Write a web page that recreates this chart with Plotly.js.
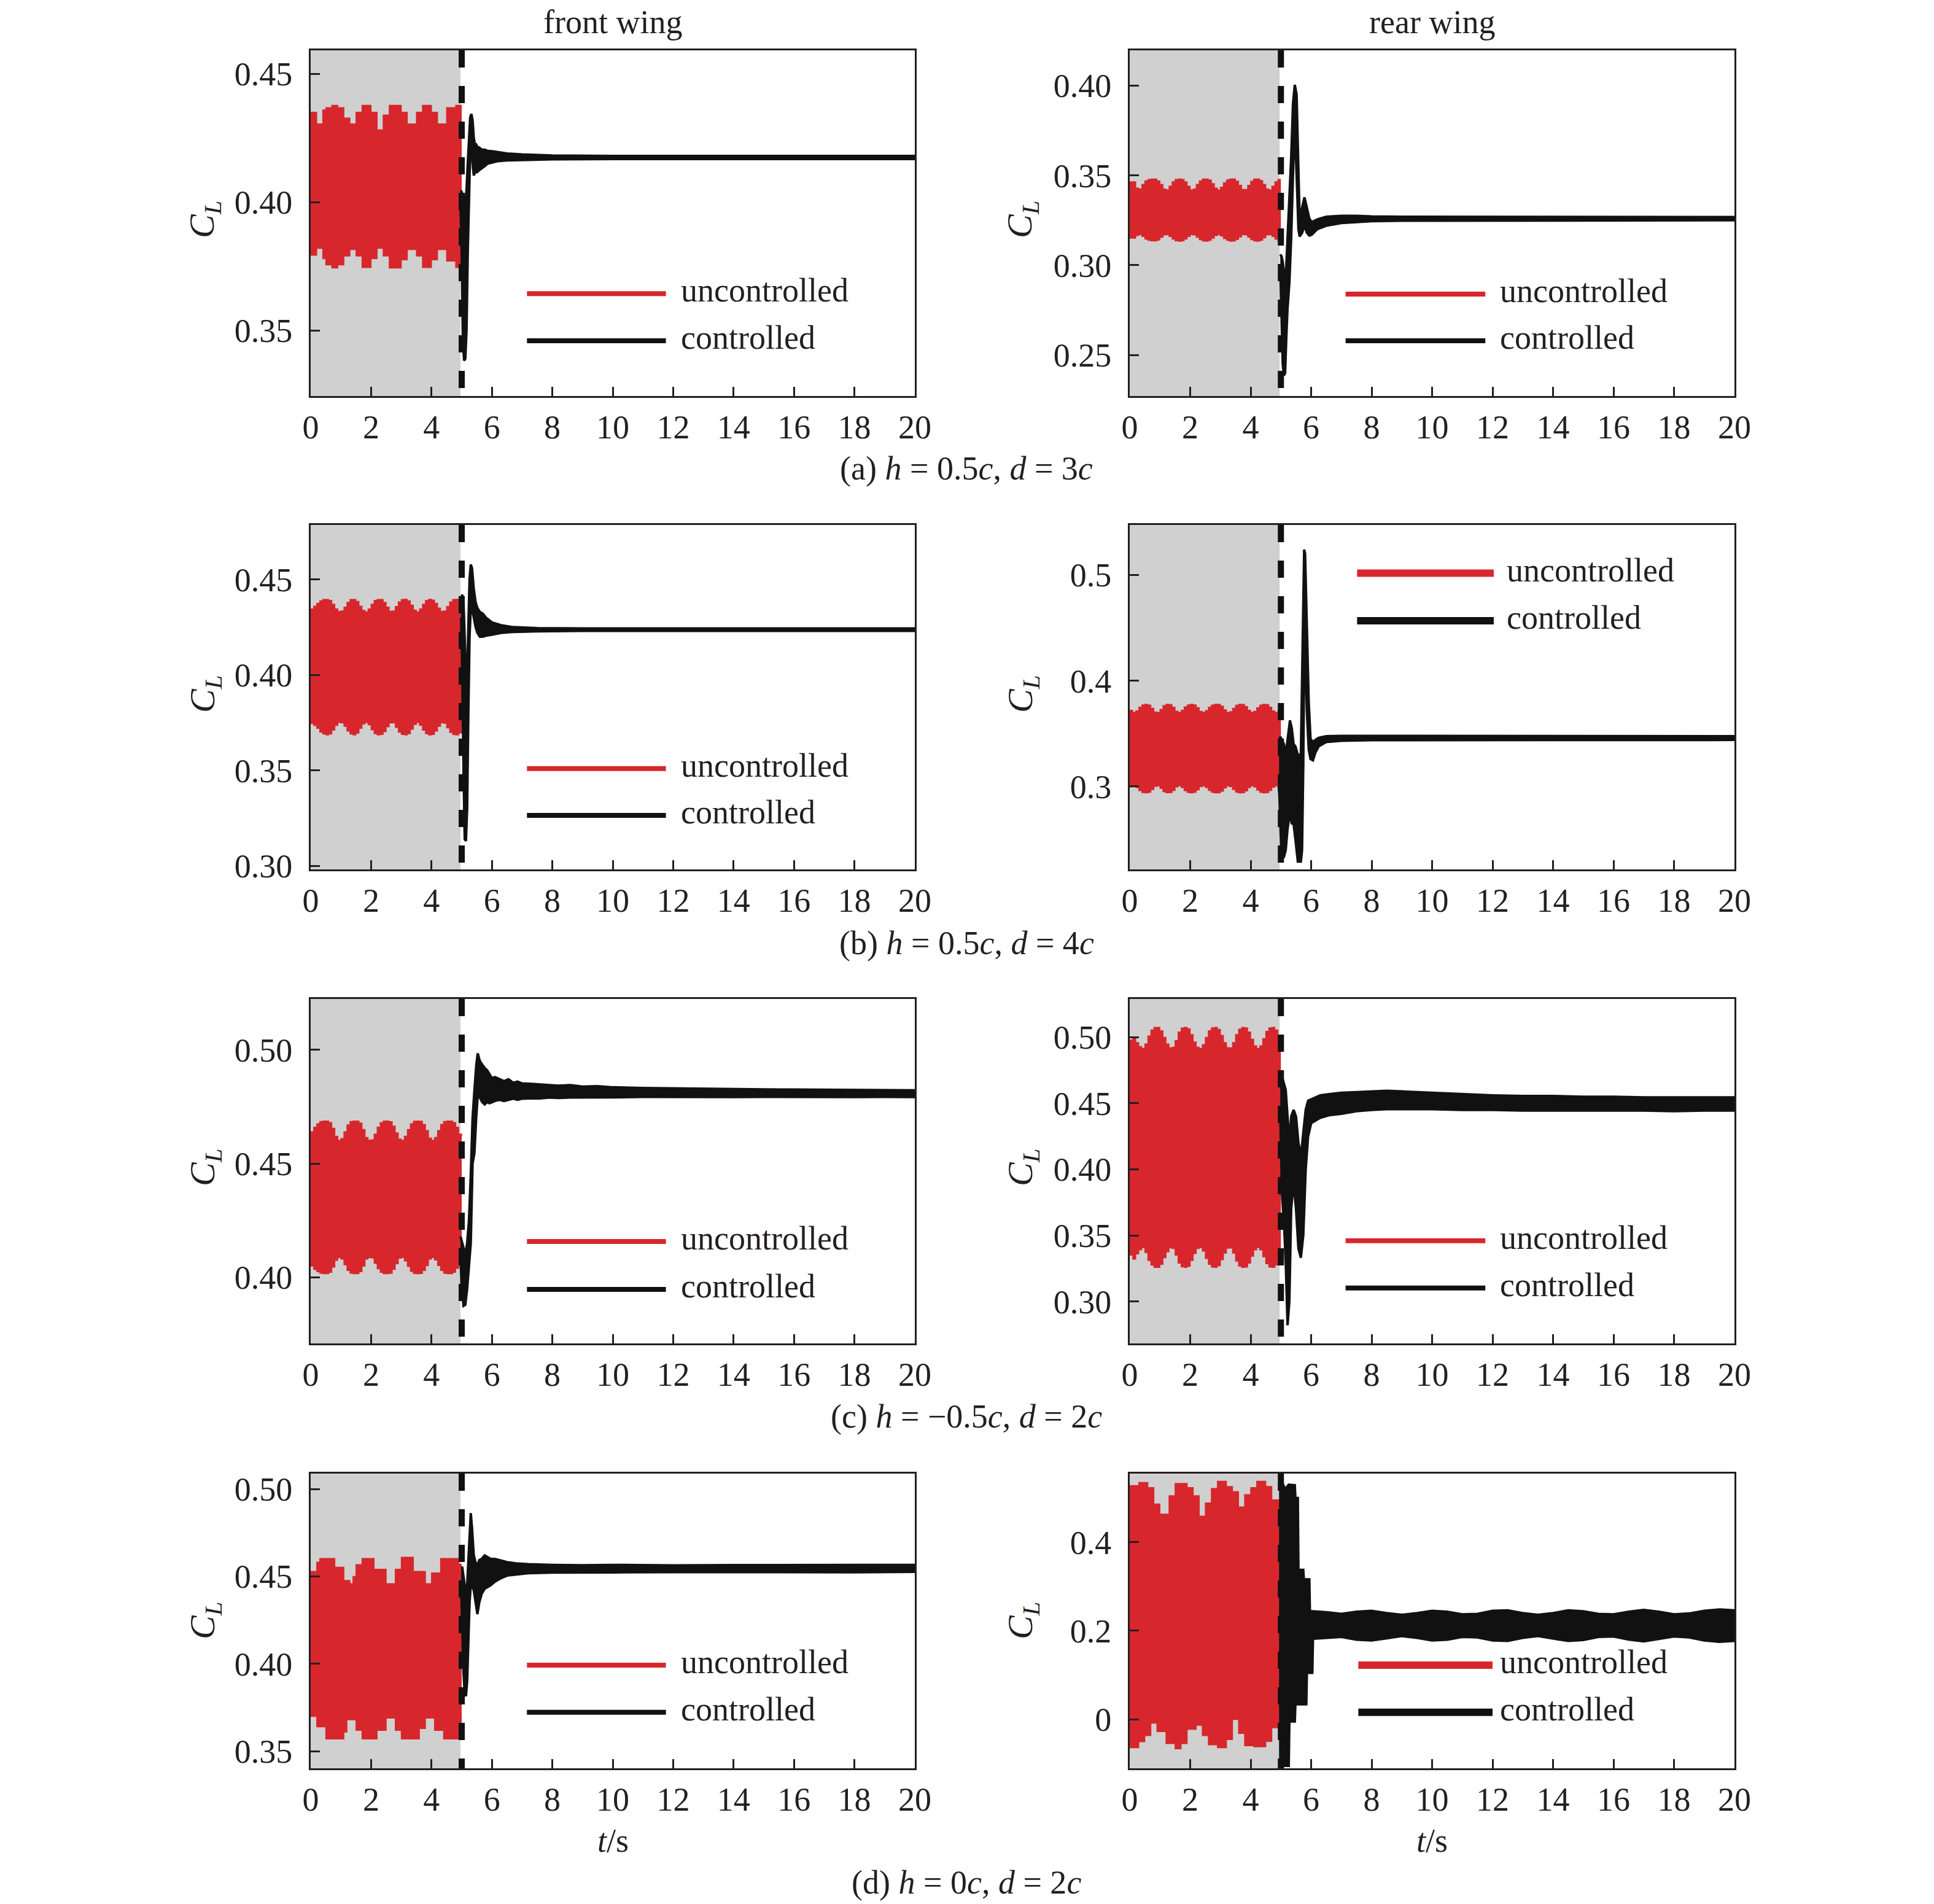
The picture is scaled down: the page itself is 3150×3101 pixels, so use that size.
<!DOCTYPE html>
<html>
<head>
<meta charset="utf-8">
<script src="https://cdn.plot.ly/plotly-3.0.1.min.js"></script>
<style>html,body{margin:0;padding:0;background:#fff;}#chart{width:3150px;height:3101px;}</style>
</head>
<body>
<div id="chart"></div>
<script>
// ---------------- DATA ----------------
const xTickVals = [0, 2, 4, 6, 8, 10, 12, 14, 16, 18, 20];
const colTitles = ['front wing', 'rear wing'];
const captions = [
  '(a) <i>h</i> = 0.5<i>c</i>, <i>d</i> = 3<i>c</i>',
  '(b) <i>h</i> = 0.5<i>c</i>, <i>d</i> = 4<i>c</i>',
  '(c) <i>h</i> = \u22120.5<i>c</i>, <i>d</i> = 2<i>c</i>',
  '(d) <i>h</i> = 0<i>c</i>, <i>d</i> = 2<i>c</i>'
];
const legendLabels = ['uncontrolled', 'controlled'];

// y tick values per panel
const aF_yTicks = [0.35, 0.40, 0.45];
const aR_yTicks = [0.25, 0.30, 0.35, 0.40];
const bF_yTicks = [0.30, 0.35, 0.40, 0.45];
const bR_yTicks = [0.3, 0.4, 0.5];
const cF_yTicks = [0.40, 0.45, 0.50];
const cR_yTicks = [0.30, 0.35, 0.40, 0.45, 0.50];
const dF_yTicks = [0.35, 0.40, 0.45, 0.50];
const dR_yTicks = [0, 0.2, 0.4];

// time samples of the uncontrolled band (upper / lower envelope)
const tRed = [0.0,0.1,0.2,0.3,0.4,0.5,0.6,0.7,0.8,0.9,1.0,1.1,1.2,1.3,1.4,1.5,1.6,1.7,1.8,1.9,2.0,2.1,2.2,2.3,2.4,2.5,2.6,2.7,2.8,2.9,3.0,3.1,3.2,3.3,3.4,3.5,3.6,3.7,3.8,3.9,4.0,4.1,4.2,4.3,4.4,4.5,4.6,4.7,4.8,4.9,5.0];

// (a) front
const aF_redUp = [0.4351,0.4351,0.4305,0.4305,0.4360,0.4369,0.4369,0.4378,0.4378,0.4369,0.4369,0.4328,0.4328,0.4305,0.4305,0.4351,0.4351,0.4378,0.4378,0.4378,0.4351,0.4351,0.4282,0.4282,0.4340,0.4340,0.4378,0.4378,0.4378,0.4378,0.4351,0.4351,0.4305,0.4305,0.4305,0.4351,0.4351,0.4378,0.4378,0.4378,0.4351,0.4351,0.4305,0.4305,0.4305,0.4369,0.4369,0.4369,0.4378,0.4378,0.4378];
const aF_redLo = [0.3793,0.3793,0.3820,0.3820,0.3780,0.3755,0.3755,0.3743,0.3743,0.3755,0.3755,0.3790,0.3790,0.3815,0.3815,0.3790,0.3790,0.3745,0.3745,0.3745,0.3780,0.3780,0.3820,0.3820,0.3790,0.3790,0.3743,0.3743,0.3743,0.3743,0.3775,0.3775,0.3815,0.3815,0.3815,0.3790,0.3790,0.3745,0.3745,0.3745,0.3775,0.3775,0.3815,0.3815,0.3815,0.3770,0.3770,0.3770,0.3745,0.3745,0.3745];
const aF_tBlk  = [4.96,5.00,5.04,5.08,5.12,5.16,5.20,5.24,5.28,5.32,5.36,5.40,5.44,5.48,5.52,5.58,5.66,5.76,5.86,6.0,6.2,6.5,7.0,7.5,8,10,20];
const aF_blkUp = [0.4045,0.4040,0.4020,0.3990,0.3990,0.4050,0.4150,0.4250,0.4330,0.4344,0.4320,0.4250,0.4223,0.4225,0.4215,0.4213,0.4205,0.4205,0.4200,0.4199,0.4195,0.4190,0.4186,0.4184,0.4182,0.4180,0.4180];
const aF_blkLo = [0.3990,0.3800,0.3450,0.3382,0.3390,0.3500,0.3800,0.4050,0.4200,0.4250,0.4150,0.4104,0.4120,0.4116,0.4118,0.4125,0.4131,0.4140,0.4150,0.4155,0.4160,0.4163,0.4165,0.4166,0.4167,0.4168,0.4168];

// (a) rear
const aR_redUp = [0.3465,0.3465,0.3430,0.3425,0.3450,0.3470,0.3478,0.3480,0.3480,0.3470,0.3450,0.3425,0.3420,0.3440,0.3465,0.3478,0.3480,0.3478,0.3465,0.3440,0.3420,0.3425,0.3450,0.3470,0.3480,0.3480,0.3475,0.3455,0.3430,0.3420,0.3435,0.3460,0.3475,0.3480,0.3480,0.3468,0.3445,0.3422,0.3422,0.3445,0.3468,0.3480,0.3480,0.3472,0.3450,0.3425,0.3420,0.3440,0.3465,0.3478,0.3478];
const aR_redLo = [0.3150,0.3150,0.3165,0.3170,0.3160,0.3145,0.3138,0.3135,0.3135,0.3140,0.3155,0.3168,0.3170,0.3160,0.3145,0.3136,0.3133,0.3136,0.3145,0.3160,0.3170,0.3168,0.3155,0.3142,0.3135,0.3133,0.3138,0.3150,0.3165,0.3170,0.3162,0.3148,0.3138,0.3133,0.3135,0.3143,0.3157,0.3170,0.3168,0.3155,0.3142,0.3135,0.3133,0.3138,0.3152,0.3168,0.3170,0.3160,0.3145,0.3136,0.3136];
const aR_tBlk  = [4.98,5.02,5.06,5.10,5.14,5.18,5.22,5.28,5.34,5.40,5.46,5.52,5.58,5.62,5.70,5.78,5.86,5.94,6.02,6.2,6.5,7.0,7.5,8.0,9.0,20];
const aR_blkUp = [0.3060,0.3050,0.3020,0.2950,0.2900,0.3000,0.3150,0.3300,0.3600,0.3900,0.4005,0.3950,0.3500,0.3250,0.3320,0.3378,0.3320,0.3260,0.3240,0.3255,0.3270,0.3275,0.3275,0.3272,0.3270,0.3268];
const aR_blkLo = [0.2990,0.2700,0.2450,0.2385,0.2400,0.2600,0.2760,0.2900,0.3150,0.3500,0.3800,0.3500,0.3200,0.3160,0.3180,0.3220,0.3180,0.3165,0.3170,0.3200,0.3220,0.3235,0.3240,0.3245,0.3248,0.3250];

// (b) front
const bF_redUp = [0.4345,0.4360,0.4375,0.4388,0.4395,0.4395,0.4390,0.4370,0.4345,0.4332,0.4335,0.4355,0.4380,0.4395,0.4395,0.4385,0.4360,0.4338,0.4330,0.4345,0.4370,0.4390,0.4395,0.4395,0.4380,0.4355,0.4333,0.4335,0.4358,0.4382,0.4395,0.4396,0.4388,0.4365,0.4340,0.4330,0.4345,0.4370,0.4390,0.4396,0.4392,0.4375,0.4350,0.4332,0.4335,0.4358,0.4382,0.4395,0.4396,0.4385,0.4370];
const bF_redLo = [0.3745,0.3735,0.3720,0.3700,0.3690,0.3685,0.3690,0.3710,0.3735,0.3750,0.3748,0.3730,0.3705,0.3690,0.3685,0.3695,0.3720,0.3742,0.3750,0.3738,0.3712,0.3692,0.3685,0.3688,0.3702,0.3728,0.3748,0.3748,0.3725,0.3700,0.3688,0.3685,0.3692,0.3715,0.3740,0.3750,0.3735,0.3710,0.3692,0.3685,0.3688,0.3705,0.3730,0.3748,0.3746,0.3722,0.3698,0.3687,0.3685,0.3695,0.3710];
const bF_tBlk  = [4.98,5.02,5.06,5.10,5.14,5.18,5.22,5.26,5.30,5.34,5.40,5.46,5.52,5.60,5.70,5.80,6.0,6.3,6.7,7.5,9,20];
const bF_blkUp = [0.4400,0.4420,0.4380,0.4200,0.4000,0.4000,0.4300,0.4500,0.4578,0.4560,0.4450,0.4380,0.4350,0.4330,0.4320,0.4300,0.4275,0.4260,0.4250,0.4245,0.4243,0.4243];
const bF_blkLo = [0.4300,0.4000,0.3500,0.3140,0.3130,0.3300,0.3800,0.4200,0.4350,0.4350,0.4300,0.4250,0.4220,0.4200,0.4200,0.4205,0.4210,0.4220,0.4225,0.4228,0.4230,0.4230];

// (b) rear
const bR_redUp = [0.3720,0.3700,0.3715,0.3750,0.3772,0.3777,0.3770,0.3740,0.3705,0.3700,0.3730,0.3765,0.3777,0.3775,0.3750,0.3712,0.3700,0.3720,0.3752,0.3772,0.3777,0.3772,0.3745,0.3710,0.3700,0.3718,0.3750,0.3770,0.3777,0.3777,0.3760,0.3725,0.3700,0.3708,0.3740,0.3768,0.3777,0.3776,0.3755,0.3720,0.3700,0.3712,0.3745,0.3770,0.3777,0.3775,0.3750,0.3715,0.3700,0.3720,0.3745];
const bR_redLo = [0.2995,0.3005,0.2990,0.2960,0.2942,0.2939,0.2945,0.2970,0.3000,0.3005,0.2980,0.2950,0.2940,0.2942,0.2962,0.2995,0.3007,0.2990,0.2960,0.2943,0.2939,0.2944,0.2968,0.2998,0.3005,0.2990,0.2962,0.2945,0.2939,0.2940,0.2955,0.2985,0.3005,0.2998,0.2970,0.2946,0.2939,0.2940,0.2958,0.2990,0.3005,0.2995,0.2965,0.2945,0.2939,0.2941,0.2962,0.2993,0.3005,0.2988,0.2965];
const bR_tBlk  = [4.94,4.98,5.02,5.10,5.16,5.22,5.30,5.36,5.42,5.48,5.56,5.66,5.70,5.74,5.77,5.80,5.86,5.92,5.98,6.06,6.14,6.25,6.5,7.0,8.0,20];
const bR_blkUp = [0.3420,0.3470,0.3450,0.3400,0.3300,0.3450,0.3625,0.3550,0.3400,0.3380,0.3300,0.3300,0.4000,0.4800,0.5239,0.5200,0.4600,0.3800,0.3450,0.3420,0.3440,0.3460,0.3475,0.3478,0.3478,0.3476];
const bR_blkLo = [0.3000,0.2600,0.2334,0.2334,0.2400,0.2600,0.2750,0.2650,0.2646,0.2500,0.2290,0.2290,0.2400,0.3200,0.4200,0.4300,0.3700,0.3350,0.3260,0.3247,0.3320,0.3380,0.3420,0.3432,0.3438,0.3440];

// (c) front
const cF_redUp = [0.4640,0.4660,0.4675,0.4685,0.4687,0.4687,0.4680,0.4655,0.4620,0.4603,0.4610,0.4640,0.4670,0.4685,0.4687,0.4687,0.4678,0.4650,0.4615,0.4603,0.4605,0.4630,0.4660,0.4680,0.4687,0.4687,0.4684,0.4665,0.4635,0.4608,0.4603,0.4620,0.4650,0.4675,0.4686,0.4687,0.4686,0.4672,0.4645,0.4612,0.4603,0.4615,0.4645,0.4672,0.4685,0.4687,0.4687,0.4680,0.4660,0.4630,0.4620];
const cF_redLo = [0.4050,0.4035,0.4025,0.4018,0.4016,0.4016,0.4022,0.4045,0.4075,0.4087,0.4080,0.4055,0.4030,0.4018,0.4016,0.4016,0.4025,0.4050,0.4080,0.4087,0.4085,0.4062,0.4038,0.4022,0.4016,0.4016,0.4018,0.4035,0.4060,0.4084,0.4087,0.4072,0.4048,0.4026,0.4017,0.4016,0.4017,0.4030,0.4052,0.4080,0.4087,0.4076,0.4052,0.4030,0.4018,0.4016,0.4016,0.4022,0.4040,0.4065,0.4075];
const cF_tBlk  = [4.96,5.00,5.06,5.12,5.18,5.24,5.30,5.36,5.42,5.48,5.53,5.60,5.68,5.76,5.84,5.92,6.00,6.10,6.25,6.40,6.55,6.70,6.85,7.0,7.3,7.6,7.9,8.2,8.6,9.0,9.5,10,11,12,13,14,15,16,17,18,19,20];
const cF_blkUp = [0.4180,0.4160,0.4120,0.4100,0.4150,0.4250,0.4450,0.4700,0.4820,0.4930,0.4984,0.4950,0.4935,0.4920,0.4910,0.4890,0.4875,0.4880,0.4870,0.4862,0.4870,0.4855,0.4860,0.4852,0.4850,0.4848,0.4845,0.4842,0.4845,0.4838,0.4840,0.4835,0.4832,0.4830,0.4828,0.4827,0.4826,0.4825,0.4824,0.4823,0.4823,0.4822];
const cF_blkLo = [0.4100,0.3950,0.3875,0.3880,0.3950,0.4050,0.4150,0.4500,0.4545,0.4700,0.4800,0.4790,0.4770,0.4760,0.4770,0.4765,0.4770,0.4775,0.4780,0.4775,0.4780,0.4785,0.4780,0.4785,0.4787,0.4786,0.4790,0.4788,0.4790,0.4790,0.4792,0.4791,0.4793,0.4792,0.4793,0.4792,0.4793,0.4792,0.4793,0.4792,0.4793,0.4792];

// (c) rear
const cR_redUp = [0.4980,0.5000,0.4960,0.4930,0.4916,0.4950,0.5010,0.5055,0.5075,0.5075,0.5050,0.5000,0.4950,0.4920,0.4925,0.4975,0.5040,0.5070,0.5075,0.5065,0.5020,0.4965,0.4925,0.4916,0.4945,0.5000,0.5050,0.5072,0.5075,0.5060,0.5015,0.4960,0.4922,0.4920,0.4960,0.5020,0.5062,0.5075,0.5072,0.5040,0.4985,0.4935,0.4916,0.4935,0.4990,0.5045,0.5072,0.5075,0.5055,0.5005,0.4960];
const cR_redLo = [0.3350,0.3320,0.3360,0.3390,0.3407,0.3370,0.3310,0.3275,0.3257,0.3257,0.3280,0.3330,0.3375,0.3405,0.3400,0.3350,0.3290,0.3262,0.3257,0.3265,0.3310,0.3362,0.3400,0.3407,0.3380,0.3325,0.3280,0.3260,0.3257,0.3270,0.3315,0.3365,0.3402,0.3404,0.3365,0.3305,0.3268,0.3257,0.3260,0.3290,0.3342,0.3390,0.3407,0.3390,0.3338,0.3285,0.3260,0.3257,0.3275,0.3320,0.3365];
const cR_tBlk  = [4.98,5.04,5.10,5.16,5.22,5.28,5.34,5.42,5.50,5.58,5.66,5.74,5.82,5.90,6.0,6.3,6.6,7.0,7.5,8.0,8.5,9.0,9.5,10,11,12,13,14,15,16,17,18,19,20];
const cR_blkUp = [0.4700,0.4700,0.4650,0.4600,0.4400,0.4200,0.4400,0.4450,0.4400,0.4200,0.4100,0.4300,0.4450,0.4520,0.4530,0.4560,0.4570,0.4580,0.4585,0.4590,0.4595,0.4590,0.4585,0.4580,0.4570,0.4560,0.4555,0.4555,0.4550,0.4550,0.4545,0.4545,0.4545,0.4545];
const cR_blkLo = [0.4400,0.3800,0.3600,0.3300,0.2820,0.3000,0.3700,0.3900,0.3700,0.3400,0.3330,0.3500,0.4000,0.4250,0.4350,0.4390,0.4410,0.4420,0.4440,0.4450,0.4455,0.4455,0.4452,0.4455,0.4450,0.4450,0.4445,0.4445,0.4445,0.4445,0.4445,0.4440,0.4445,0.4445];

// (d) front
const dF_redUp = [0.4529,0.4529,0.4582,0.4603,0.4603,0.4603,0.4603,0.4603,0.4553,0.4553,0.4553,0.4477,0.4477,0.4459,0.4500,0.4568,0.4568,0.4603,0.4603,0.4603,0.4603,0.4541,0.4541,0.4541,0.4541,0.4459,0.4459,0.4459,0.4541,0.4541,0.4610,0.4610,0.4610,0.4610,0.4529,0.4529,0.4529,0.4529,0.4459,0.4459,0.4520,0.4520,0.4520,0.4603,0.4603,0.4603,0.4603,0.4603,0.4603,0.4570,0.4570];
const dF_redLo = [0.3700,0.3700,0.3640,0.3640,0.3640,0.3571,0.3571,0.3571,0.3571,0.3571,0.3571,0.3610,0.3680,0.3680,0.3680,0.3620,0.3620,0.3571,0.3571,0.3571,0.3571,0.3571,0.3620,0.3620,0.3620,0.3690,0.3690,0.3690,0.3620,0.3620,0.3571,0.3571,0.3571,0.3571,0.3571,0.3571,0.3630,0.3630,0.3690,0.3690,0.3690,0.3620,0.3620,0.3620,0.3571,0.3571,0.3571,0.3571,0.3571,0.3571,0.3571];
const dF_tBlk  = [4.98,5.02,5.06,5.10,5.14,5.18,5.22,5.26,5.30,5.34,5.40,5.46,5.52,5.58,5.66,5.76,5.86,5.96,6.1,6.3,6.5,6.8,7.2,8.0,9.0,10,12,14,16,18,20];
const dF_blkUp = [0.4550,0.4550,0.4500,0.4450,0.4400,0.4450,0.4600,0.4750,0.4862,0.4780,0.4620,0.4580,0.4560,0.4593,0.4600,0.4620,0.4610,0.4600,0.4600,0.4590,0.4582,0.4575,0.4570,0.4566,0.4564,0.4566,0.4563,0.4565,0.4564,0.4566,0.4566];
const dF_blkLo = [0.4450,0.4200,0.3950,0.3830,0.3816,0.3900,0.4150,0.4350,0.4450,0.4450,0.4420,0.4350,0.4284,0.4350,0.4400,0.4430,0.4440,0.4450,0.4470,0.4490,0.4505,0.4512,0.4518,0.4522,0.4524,0.4523,0.4525,0.4524,0.4525,0.4524,0.4526];

// (d) rear
const dR_redUp = [0.528,0.528,0.528,0.535,0.535,0.535,0.5236,0.5236,0.4865,0.4865,0.4633,0.4633,0.4633,0.505,0.505,0.5328,0.5328,0.5328,0.5328,0.5236,0.5236,0.505,0.505,0.4588,0.4588,0.4889,0.4889,0.5213,0.5213,0.5375,0.5375,0.5375,0.526,0.526,0.5143,0.5143,0.4796,0.4796,0.5074,0.5074,0.5236,0.5236,0.5375,0.5375,0.5375,0.5259,0.5259,0.4958,0.4958,0.4958,0.4958];
const dR_redLo = [-0.0644,-0.0644,-0.0644,-0.0506,-0.0506,-0.0367,-0.0367,-0.0089,-0.0089,-0.028,-0.028,-0.028,-0.055,-0.055,-0.055,-0.0667,-0.0667,-0.055,-0.055,-0.0228,-0.0228,-0.0228,-0.0135,-0.0135,-0.037,-0.037,-0.0575,-0.0575,-0.0575,-0.0644,-0.0644,-0.0644,-0.046,-0.046,-0.0004,-0.0004,-0.032,-0.032,-0.0597,-0.0597,-0.0597,-0.062,-0.062,-0.062,-0.062,-0.050,-0.050,-0.019,-0.019,-0.019,-0.019];
const dR_tBlk  = [4.94,5.14,5.26,5.28,5.46,5.48,5.56,5.58,5.74,5.76,5.84,5.86,5.94,5.96,6.04,6.06,6.5,7.0,7.5,8.0,8.5,9.0,9.5,10.0,10.5,11.0,11.5,12.0,12.5,13.0,13.5,14.0,14.5,15.0,15.5,16.0,16.5,17.0,17.5,18.0,18.5,19.0,19.5,20.0];
const dR_blkUp = [0.550,0.520,0.530,0.530,0.529,0.500,0.500,0.3375,0.3375,0.316,0.316,0.316,0.316,0.244,0.244,0.244,0.242,0.238,0.243,0.245,0.240,0.236,0.240,0.245,0.243,0.237,0.238,0.245,0.246,0.240,0.236,0.240,0.246,0.244,0.238,0.237,0.243,0.247,0.243,0.237,0.239,0.245,0.248,0.246];
const dR_blkLo = [-0.105,-0.105,-0.105,-0.005,-0.005,0.034,0.034,0.034,0.034,0.034,0.034,0.105,0.105,0.105,0.105,0.182,0.184,0.186,0.180,0.178,0.183,0.188,0.184,0.178,0.180,0.186,0.185,0.178,0.177,0.184,0.188,0.183,0.177,0.179,0.186,0.187,0.180,0.176,0.181,0.187,0.185,0.178,0.175,0.177];

// ---------------- STYLE / LAYOUT ----------------
const W = 3150, H = 3101;
const FONT = 'Liberation Serif, Times New Roman, serif';
const AXC = '#231f20';
const RED = '#d8272c';
const BLK = '#111111';
const GRAY = '#d0d0d0';

const colPx = [[506, 1490], [1840, 2825]];
const rowPx = [[82, 645], [855, 1416], [1627, 2188], [2400, 2880]];

const panels = [
  {r:0,c:0, yr:[0.3244,0.4592], yt:aF_yTicks, fmt:'.2f', ru:aF_redUp, rl:aF_redLo, tb:aF_tBlk, bu:aF_blkUp, bl:aF_blkLo, lg:{x0:0.358,x1:0.588,tx:0.611,yr:0.296,yb:0.160,w:8}},
  {r:0,c:1, yr:[0.2271,0.4197], yt:aR_yTicks, fmt:'.2f', ru:aR_redUp, rl:aR_redLo, tb:aR_tBlk, bu:aR_blkUp, bl:aR_blkLo, lg:{x0:0.357,x1:0.588,tx:0.610,yr:0.295,yb:0.160,w:8}},
  {r:1,c:0, yr:[0.2981,0.4785], yt:bF_yTicks, fmt:'.2f', ru:bF_redUp, rl:bF_redLo, tb:bF_tBlk, bu:bF_blkUp, bl:bF_blkLo, lg:{x0:0.358,x1:0.588,tx:0.611,yr:0.293,yb:0.157,w:8}},
  {r:1,c:1, yr:[0.2216,0.5472], yt:bR_yTicks, fmt:'.1f', ru:bR_redUp, rl:bR_redLo, tb:bR_tBlk, bu:bR_blkUp, bl:bR_blkLo, lg:{x0:0.376,x1:0.602,tx:0.621,yr:0.860,yb:0.722,w:12}},
  {r:2,c:0, yr:[0.3710,0.5223], yt:cF_yTicks, fmt:'.2f', ru:cF_redUp, rl:cF_redLo, tb:cF_tBlk, bu:cF_blkUp, bl:cF_blkLo, lg:{x0:0.358,x1:0.588,tx:0.611,yr:0.296,yb:0.157,w:8}},
  {r:2,c:1, yr:[0.2682,0.5290], yt:cR_yTicks, fmt:'.2f', ru:cR_redUp, rl:cR_redLo, tb:cR_tBlk, bu:cR_blkUp, bl:cR_blkLo, lg:{x0:0.357,x1:0.588,tx:0.610,yr:0.298,yb:0.161,w:8}},
  {r:3,c:0, yr:[0.3403,0.5088], yt:dF_yTicks, fmt:'.2f', ru:dF_redUp, rl:dF_redLo, tb:dF_tBlk, bu:dF_blkUp, bl:dF_blkLo, lg:{x0:0.358,x1:0.588,tx:0.611,yr:0.350,yb:0.190,w:8}},
  {r:3,c:1, yr:[-0.1107,0.5550], yt:dR_yTicks, fmt:'', ru:dR_redUp, rl:dR_redLo, tb:dR_tBlk, bu:dR_blkUp, bl:dR_blkLo, lg:{x0:0.378,x1:0.600,tx:0.610,yr:0.350,yb:0.190,w:12}}
];

const data = [];
const layout = {
  width: W, height: H,
  margin: {l:0, r:0, t:0, b:0, pad:0},
  paper_bgcolor: '#ffffff', plot_bgcolor: '#ffffff',
  showlegend: false,
  font: {family: FONT, color: AXC, size: 54},
  shapes: [], annotations: []
};

function band(xa, ya, t, up, lo, color, lw, shape) {
  data.push({type:'scatter', mode:'lines', x:t, y:up, xaxis:xa, yaxis:ya,
    line:{color:color, width:lw, shape:shape}, hoverinfo:'skip', showlegend:false});
  data.push({type:'scatter', mode:'lines', x:t, y:lo, xaxis:xa, yaxis:ya,
    line:{color:color, width:lw, shape:shape}, fill:'tonexty', fillcolor:color, hoverinfo:'skip', showlegend:false});
}

panels.forEach((p, i) => {
  const n = i + 1;
  const s = n === 1 ? '' : String(n);
  const xa = 'x' + s, ya = 'y' + s;
  const cx = colPx[p.c], ry = rowPx[p.r];
  const axCommon = {
    showline:true, mirror:true, linecolor:AXC, linewidth:3,
    ticks:'inside', ticklen:15, tickwidth:3, tickcolor:AXC,
    showgrid:false, zeroline:false, fixedrange:true,
    tickfont:{family:FONT, size:54, color:AXC}
  };
  layout['xaxis' + s] = Object.assign({}, axCommon, {
    domain:[cx[0]/W, cx[1]/W], range:[0,20], anchor:ya,
    tickmode:'array', tickvals:xTickVals, ticklabelstandoff:1
  });
  const yax = Object.assign({}, axCommon, {
    domain:[1 - ry[1]/H, 1 - ry[0]/H], range:p.yr, anchor:xa,
    tickmode:'array', tickvals:p.yt, ticklabelstandoff:16
  });
  if (p.fmt) yax.tickformat = p.fmt;
  layout['yaxis' + s] = yax;

  // shaded uncontrolled interval
  layout.shapes.push({type:'rect', xref:xa, yref:ya + ' domain', x0:0, x1:4.96, y0:0, y1:1,
    fillcolor:GRAY, line:{width:0}, layer:'below'});

  band(xa, ya, tRed, p.ru, p.rl, RED, 1.5, 'hv');
  band(xa, ya, p.tb, p.bu, p.bl, BLK, 4, 'linear');

  // control onset line
  layout.shapes.push({type:'line', xref:xa, yref:ya + ' domain', x0:5, x1:5, y0:1, y1:0,
    line:{color:BLK, width:10, dash:'28px,30px'}, layer:'above'});

  // legend
  const L = p.lg;
  layout.shapes.push({type:'line', xref:xa + ' domain', yref:ya + ' domain', x0:L.x0, x1:L.x1, y0:L.yr, y1:L.yr,
    line:{color:RED, width:L.w}, layer:'above'});
  layout.shapes.push({type:'line', xref:xa + ' domain', yref:ya + ' domain', x0:L.x0, x1:L.x1, y0:L.yb, y1:L.yb,
    line:{color:BLK, width:L.w}, layer:'above'});
  [[L.yr, legendLabels[0]], [L.yb, legendLabels[1]]].forEach(([yy, txt]) => {
    layout.annotations.push({xref:xa + ' domain', yref:ya + ' domain', x:L.tx, y:yy, text:txt,
      showarrow:false, xanchor:'left', yanchor:'middle', yshift:5, font:{family:FONT, size:54, color:AXC}});
  });

  // y-axis title
  const yTitleX = (p.c === 0 ? 333 : 1665) / W;
  const yTitleCY = [358, 1131, 1902, 2640][p.r];
  layout.annotations.push({xref:'paper', yref:'paper', x:yTitleX, y:1 - yTitleCY/H,
    text:'<i>C</i><sub><i>L</i></sub>', textangle:-90, showarrow:false,
    xanchor:'center', yanchor:'middle', font:{family:FONT, size:58, color:AXC}});
});

// column titles
[[998, colTitles[0]], [2332, colTitles[1]]].forEach(([x, txt]) => {
  layout.annotations.push({xref:'paper', yref:'paper', x:x/W, y:1 - 36/H, text:txt, showarrow:false,
    xanchor:'center', yanchor:'middle', font:{family:FONT, size:54, color:AXC}});
});
// captions
[763, 1536, 2307, 3066].forEach((y, k) => {
  layout.annotations.push({xref:'paper', yref:'paper', x:1574/W, y:1 - y/H, text:captions[k], showarrow:false,
    xanchor:'center', yanchor:'middle', font:{family:FONT, size:54, color:AXC}});
});
// x-axis titles (bottom row)
[998, 2332].forEach((x) => {
  layout.annotations.push({xref:'paper', yref:'paper', x:x/W, y:1 - 2998/H, text:'<i>t</i>/s', showarrow:false,
    xanchor:'center', yanchor:'middle', font:{family:FONT, size:54, color:AXC}});
});

Plotly.newPlot('chart', data, layout, {staticPlot:true, displayModeBar:false});
</script>
</body>
</html>
